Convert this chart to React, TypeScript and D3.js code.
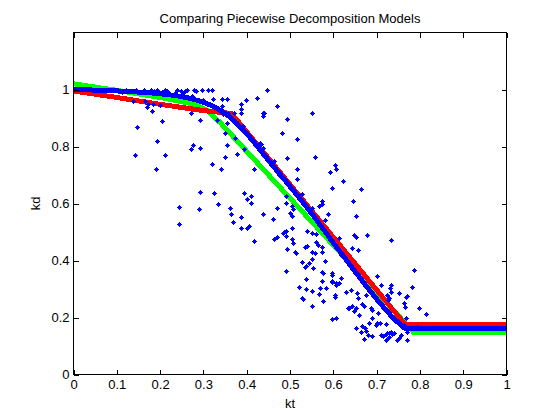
import React, { useEffect, useRef } from 'react';
import * as d3 from 'd3';

const W = 560;
const H = 420;

const xTicks = [0, 0.1, 0.2, 0.3, 0.4, 0.5, 0.6, 0.7, 0.8, 0.9, 1];
const yTicks = [0, 0.2, 0.4, 0.6, 0.8, 1];

// measured kt / kd pairs
const observed: [number, number][] = [
  [0.105, 0.995], [0.113, 0.99], [0.122, 0.998], [0.135, 0.993], [0.146, 0.997], [0.155, 0.99],
  [0.164, 0.996], [0.172, 0.99], [0.18, 0.997], [0.188, 0.992], [0.195, 0.996], [0.205, 0.99],
  [0.212, 0.997], [0.218, 0.992], [0.235, 0.986], [0.241, 0.996], [0.249, 0.993], [0.253, 0.986],
  [0.258, 0.993], [0.264, 0.995], [0.274, 0.976], [0.279, 0.996], [0.283, 0.993], [0.299, 0.995],
  [0.311, 0.996], [0.322, 0.995], [0.323, 0.965], [0.343, 0.965], [0.355, 0.965], [0.449, 0.997],
  [0.138, 0.958], [0.166, 0.958], [0.173, 0.947], [0.184, 0.947], [0.17, 0.937], [0.2, 0.944],
  [0.182, 0.923], [0.147, 0.867], [0.205, 0.888], [0.272, 0.916], [0.293, 0.892], [0.343, 0.94],
  [0.339, 0.923], [0.346, 0.913], [0.332, 0.892], [0.355, 0.881], [0.35, 0.846], [0.194, 0.818],
  [0.276, 0.804], [0.272, 0.79], [0.293, 0.794], [0.355, 0.804], [0.143, 0.769], [0.212, 0.769],
  [0.35, 0.762], [0.32, 0.738], [0.341, 0.72], [0.191, 0.72], [0.293, 0.64], [0.325, 0.636],
  [0.334, 0.598], [0.244, 0.587], [0.29, 0.58], [0.362, 0.584], [0.366, 0.563], [0.389, 0.552],
  [0.369, 0.535], [0.41, 0.601], [0.438, 0.563], [0.244, 0.528], [0.389, 0.514], [0.403, 0.514],
  [0.406, 0.521], [0.419, 0.465], [0.424, 0.969], [0.399, 0.962], [0.387, 0.948], [0.389, 0.93],
  [0.387, 0.916], [0.371, 0.916], [0.359, 0.916], [0.47, 0.941], [0.438, 0.916], [0.442, 0.916],
  [0.438, 0.906], [0.553, 0.916], [0.495, 0.895], [0.392, 0.871], [0.482, 0.846], [0.518, 0.825],
  [0.373, 0.829], [0.431, 0.811], [0.435, 0.808], [0.438, 0.794], [0.396, 0.79], [0.378, 0.773],
  [0.495, 0.759], [0.558, 0.762], [0.465, 0.748], [0.419, 0.72], [0.518, 0.72], [0.518, 0.685],
  [0.396, 0.636], [0.401, 0.615], [0.412, 0.626], [0.412, 0.601], [0.47, 0.584], [0.493, 0.626],
  [0.505, 0.591], [0.507, 0.58], [0.574, 0.608], [0.576, 0.598], [0.569, 0.591], [0.604, 0.734],
  [0.608, 0.72], [0.594, 0.71], [0.624, 0.678], [0.597, 0.654], [0.664, 0.65], [0.53, 0.633],
  [0.647, 0.608], [0.551, 0.584], [0.59, 0.563], [0.654, 0.556], [0.583, 0.542], [0.541, 0.5],
  [0.553, 0.493], [0.562, 0.49], [0.615, 0.476], [0.65, 0.486], [0.654, 0.479], [0.68, 0.486],
  [0.735, 0.469], [0.491, 0.601], [0.461, 0.545], [0.5, 0.566], [0.505, 0.556], [0.488, 0.497],
  [0.493, 0.503], [0.484, 0.493], [0.505, 0.514], [0.493, 0.483], [0.465, 0.472], [0.47, 0.479],
  [0.505, 0.472], [0.507, 0.458], [0.495, 0.437], [0.512, 0.427], [0.514, 0.423], [0.535, 0.444],
  [0.541, 0.448], [0.562, 0.462], [0.565, 0.451], [0.574, 0.444], [0.576, 0.427], [0.553, 0.427],
  [0.558, 0.423], [0.583, 0.395], [0.551, 0.402], [0.53, 0.392], [0.544, 0.388], [0.535, 0.374],
  [0.539, 0.378], [0.555, 0.371], [0.491, 0.36], [0.576, 0.357], [0.578, 0.353], [0.597, 0.353],
  [0.599, 0.346], [0.539, 0.332], [0.576, 0.325], [0.597, 0.325], [0.599, 0.322], [0.618, 0.336],
  [0.608, 0.311], [0.521, 0.304], [0.539, 0.297], [0.551, 0.29], [0.571, 0.301], [0.585, 0.301],
  [0.567, 0.28], [0.631, 0.287], [0.604, 0.276], [0.606, 0.269], [0.53, 0.266], [0.532, 0.262],
  [0.578, 0.255], [0.551, 0.238], [0.636, 0.231], [0.599, 0.192], [0.608, 0.196], [0.645, 0.441],
  [0.659, 0.434], [0.788, 0.364], [0.703, 0.343], [0.643, 0.294], [0.657, 0.283], [0.659, 0.266],
  [0.677, 0.276], [0.712, 0.311], [0.733, 0.301], [0.783, 0.304], [0.753, 0.283], [0.772, 0.273],
  [0.726, 0.276], [0.73, 0.266], [0.728, 0.259], [0.765, 0.248], [0.767, 0.234], [0.8, 0.231],
  [0.816, 0.21], [0.638, 0.231], [0.645, 0.238], [0.65, 0.22], [0.654, 0.231], [0.668, 0.245],
  [0.673, 0.238], [0.661, 0.206], [0.689, 0.231], [0.691, 0.224], [0.705, 0.213], [0.691, 0.196],
  [0.684, 0.178], [0.7, 0.171], [0.703, 0.178], [0.71, 0.178], [0.724, 0.175], [0.654, 0.161],
  [0.668, 0.168], [0.675, 0.161], [0.666, 0.147], [0.677, 0.15], [0.682, 0.136], [0.691, 0.133],
  [0.673, 0.122], [0.712, 0.136], [0.717, 0.133], [0.722, 0.14], [0.726, 0.143], [0.73, 0.143],
  [0.735, 0.147], [0.737, 0.14], [0.742, 0.143], [0.722, 0.119], [0.726, 0.122], [0.73, 0.129],
  [0.749, 0.119], [0.753, 0.126], [0.758, 0.136], [0.77, 0.161], [0.772, 0.147], [0.772, 0.119],
  [0.765, 0.171], [0.781, 0.161], [0.788, 0.161], [0.795, 0.164], [0.77, 0.196], [0.77, 0.269],
  [0.735, 0.311], [0.735, 0.287], [0.615, 0.318], [0.608, 0.318],
  [0.3, 0.962], [0.358, 0.905], [0.402, 0.838], [0.442, 0.764], [0.476, 0.698], [0.526, 0.606],
  [0.575, 0.51], [0.62, 0.418], [0.66, 0.338], [0.695, 0.272], [0.736, 0.2], [0.758, 0.172]
];

// model curves
const modelRed: [number, number][] = [
  [0, 0.995], [0.1, 0.972], [0.2, 0.948], [0.3, 0.926], [0.35, 0.918], [0.365, 0.916], [0.766, 0.175], [1, 0.175]
];
const modelGreen: [number, number][] = [
  [0, 1.02], [0.1, 0.997], [0.2, 0.972], [0.28, 0.948], [0.31, 0.925], [0.34, 0.882], [0.787, 0.146], [1, 0.146]
];
const modelBlue: [number, number][] = [
  [0, 1.0], [0.1, 0.995], [0.2, 0.985], [0.25, 0.975], [0.3, 0.955], [0.33, 0.935], [0.36, 0.905],
  [0.4, 0.845], [0.45, 0.752], [0.5, 0.66], [0.55, 0.565], [0.6, 0.462], [0.65, 0.362], [0.7, 0.265],
  [0.75, 0.182], [0.768, 0.162], [1, 0.162]
];

const FONT = '"Liberation Sans", Arial, Helvetica, sans-serif';

const App = () => {
  const svgRef = useRef<SVGSVGElement>(null);

  useEffect(() => {
    const svg = d3.select(svgRef.current);
    svg.selectAll('*').remove();

    const left = 73.5, right = 506.5, top = 32.5, bottom = 374.5;
    const x = d3.scaleLinear().domain([0, 1]).range([left, right]);
    const y = d3.scaleLinear().domain([0, 1.2]).range([bottom, top]);

    svg.append('rect').attr('width', W).attr('height', H).attr('fill', '#fff');

    const line = d3.line<[number, number]>().x(d => x(d[0])).y(d => y(d[1]));
    const lineSmooth = d3.line<[number, number]>().x(d => x(d[0])).y(d => y(d[1])).curve(d3.curveMonotoneX);

    const g = svg.append('g');
    g.append('path').attr('d', line(modelGreen)).attr('fill', 'none').attr('stroke', '#00ff00')
      .attr('stroke-width', 5).attr('shape-rendering', 'crispEdges');
    g.append('path').attr('d', line(modelRed)).attr('fill', 'none').attr('stroke', '#ff0000')
      .attr('stroke-width', 5).attr('shape-rendering', 'crispEdges');
    g.append('path').attr('d', lineSmooth(modelBlue)).attr('fill', 'none').attr('stroke', '#0000ff')
      .attr('stroke-width', 5).attr('shape-rendering', 'crispEdges');

    const marker = 'M-0.5,-2.5h1v1h1v1h1v1h-1v1h-1v1h-1v-1h-1v-1h-1v-1h1v-1h1z';
    g.selectAll('path.pt')
      .data(observed)
      .join('path')
      .attr('class', 'pt')
      .attr('d', marker)
      .attr('transform', d => `translate(${Math.floor(x(d[0])) + 0.5},${Math.floor(y(d[1])) + 0.5})`)
      .attr('fill', '#0000ff')
      .attr('shape-rendering', 'crispEdges');

    // box
    svg.append('rect')
      .attr('x', left).attr('y', top).attr('width', right - left).attr('height', bottom - top)
      .attr('fill', 'none').attr('stroke', '#000').attr('stroke-width', 1).attr('shape-rendering', 'crispEdges');

    const styleAxis = (sel: d3.Selection<SVGGElement, unknown, null, undefined>) => {
      sel.select('.domain').remove();
      sel.selectAll('line').attr('stroke', '#000').attr('shape-rendering', 'crispEdges');
      sel.selectAll('text').attr('fill', '#000').style('font-family', FONT).style('font-size', '13px');
    };

    const fmt = (d: d3.NumberValue) => String(+d);

    svg.append('g').attr('transform', `translate(0,${bottom})`)
      .call(d3.axisBottom(x).tickValues(xTicks).tickSizeInner(-5).tickSizeOuter(0).tickPadding(5.5).tickFormat(fmt))
      .call(styleAxis);
    svg.append('g').attr('transform', `translate(0,${top})`)
      .call(d3.axisTop(x).tickValues(xTicks).tickSizeInner(-5).tickSizeOuter(0).tickFormat(() => ''))
      .call(styleAxis);
    svg.append('g').attr('transform', `translate(${left},0)`)
      .call(d3.axisLeft(y).tickValues(yTicks).tickSizeInner(-5).tickSizeOuter(0).tickPadding(4).tickFormat(fmt))
      .call(styleAxis);
    svg.append('g').attr('transform', `translate(${right},0)`)
      .call(d3.axisRight(y).tickValues(yTicks).tickSizeInner(-5).tickSizeOuter(0).tickFormat(() => ''))
      .call(styleAxis);

    svg.append('text')
      .attr('x', (left + right) / 2).attr('y', 23)
      .attr('text-anchor', 'middle')
      .style('font-family', FONT).style('font-size', '13px')
      .text('Comparing Piecewise Decomposition Models');

    svg.append('text')
      .attr('x', (left + right) / 2).attr('y', 408)
      .attr('text-anchor', 'middle')
      .style('font-family', FONT).style('font-size', '13px')
      .text('kt');

    svg.append('text')
      .attr('transform', `translate(40,${(top + bottom) / 2}) rotate(-90)`)
      .attr('text-anchor', 'middle')
      .style('font-family', FONT).style('font-size', '13px')
      .text('kd');
  }, []);

  return (
    <svg ref={svgRef} width={W} height={H} style={{ position: 'absolute', left: 0, top: 0 }}></svg>
  );
};

export default App;
